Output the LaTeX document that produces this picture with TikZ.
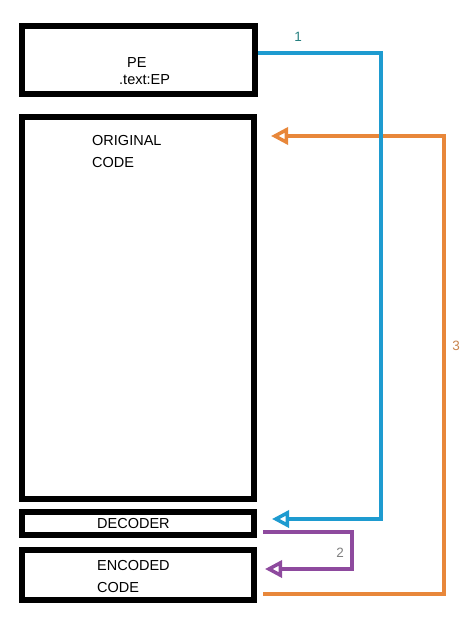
\documentclass[tikz,border=0pt]{standalone}
\usepackage{fontspec}
\setmainfont{Liberation Sans}
\usetikzlibrary{positioning,arrows.meta,calc}
\definecolor{lineblue}{HTML}{1E9BD0}
\definecolor{lineorange}{HTML}{E8873A}
\definecolor{linepurple}{HTML}{8E4A9E}
\tikzset{block/.style={draw=black,line width=6pt,inner sep=0pt,outer sep=3pt}}
\tikzset{label text/.style={font=\fontsize{14.5}{16}\selectfont,anchor=west,inner sep=0pt}}
\tikzset{flow/.style={line width=3.5pt,-{Triangle[open,length=17pt,width=17pt]}}}
\tikzset{number/.style={font=\fontsize{13.5}{15}\selectfont,inner sep=0pt}}

\begin{document}
\begin{tikzpicture}[x=1pt,y=-1pt]
  \useasboundingbox (0,0) rectangle (474,628);
  \node[block,minimum width=233pt,minimum height=68pt] (pe) at (138.5,60) {};
  \node[block,minimum width=232pt,minimum height=382pt] (orig) at (138,308) {};
  \node[block,minimum width=232pt,minimum height=23pt] (dec) at (138,523.5) {};
  \node[block,minimum width=232pt,minimum height=50pt] (enc) at (138,575) {};
  \node[label text] (pename) at (127,63) {PE};
  \node[label text] (petext) at (119,80) {.text:EP};
  \node[label text] (origa) at (92,141) {ORIGINAL};
  \node[label text] (origb) at (92,163) {CODE};
  \node[label text] (decname) at (97,524) {DECODER};
  \node[label text] (enca) at (97,566) {ENCODED};
  \node[label text] (encb) at (97,588) {CODE};
  \coordinate (one) at (381,519);
  \coordinate (two) at (352,569);
  \coordinate (three) at (444,136);
  % 3
  \draw[flow,lineorange,shorten >=14pt,shorten <=6pt] ([yshift=-19pt]enc.east) -| (three) -- (three -| orig.east);
  % 1
  \draw[flow,lineblue,shorten >=15pt] ([yshift=7pt]pe.east) -| (one) -- (one -| dec.east);
  % 2
  \draw[flow,linepurple,shorten >=8pt,shorten <=6pt] ([yshift=-8.5pt]dec.east) -| (two) -- (two -| enc.east);
  \node[number,text=teal!70!gray] (n1) at (298,37) {1};
  \node[number,text=gray] (n2) at (340,553) {2};
  \node[number,text=lineorange!70!gray] (n3) at (456,346) {3};
\end{tikzpicture}
\end{document}
